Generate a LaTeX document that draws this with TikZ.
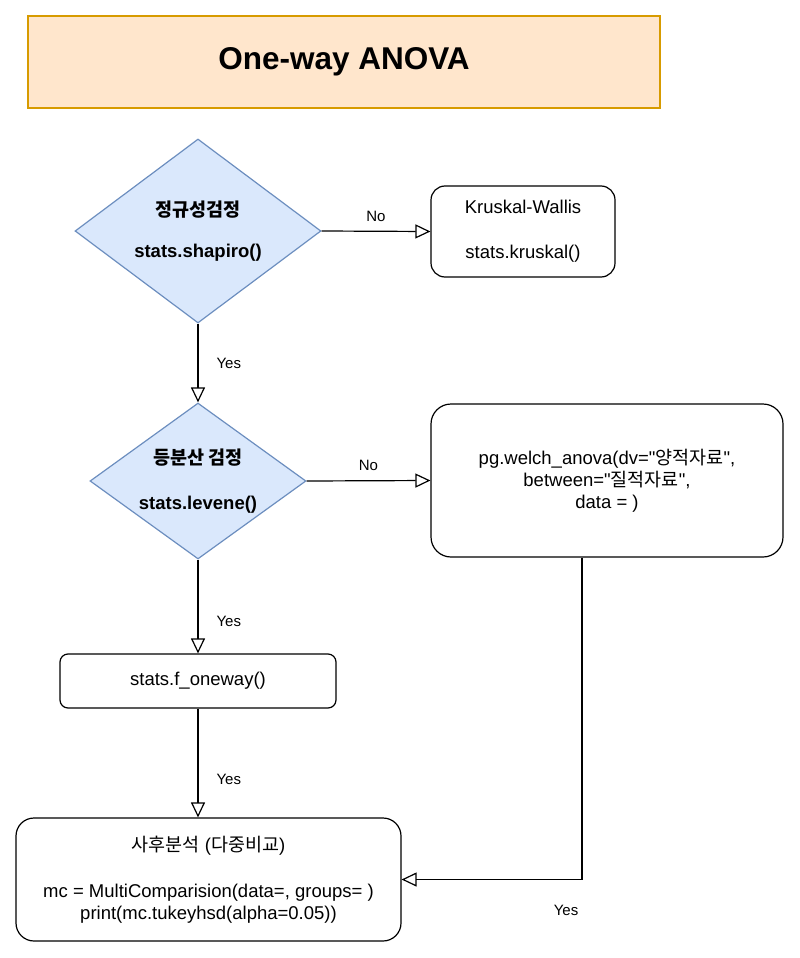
\documentclass[tikz,border=0pt]{standalone}
\usepackage{fontspec}
\setmainfont{Liberation Sans}[Ligatures=TeXOff]
\newfontfamily\kr{Noto Sans CJK KR}
\usetikzlibrary{shapes.geometric,arrows.meta}
\definecolor{titlefill}{HTML}{FFE6CC}
\definecolor{titleline}{HTML}{D79B00}
\definecolor{decfill}{HTML}{DAE8FC}
\definecolor{decline}{HTML}{6C8EBF}
\begin{document}
\begin{tikzpicture}[x=1pt,y=-1pt,
	decision/.style={diamond, draw=decline, fill=decfill, line width=1.2pt, inner sep=0pt,
		align=center, font=\bfseries\fontsize{18.5}{22}\selectfont},
	process/.style={rectangle, draw=black, line width=1.2pt, rounded corners=#1, inner sep=0pt,
		align=center, font=\fontsize{18.5}{22}\selectfont},
	process/.default=14pt,
	flow/.style={-{Triangle[open,length=15pt,width=14pt]}, line width=1.2pt},
	lbl/.style={font=\fontsize{15}{18}\selectfont, inner sep=0pt}]
		\useasboundingbox (0,0) rectangle (800,958);
		
		% title
		\node[rectangle, draw=titleline, fill=titlefill, line width=1.4pt,
			minimum width=632pt, minimum height=92pt,
			font=\bfseries\fontsize{31.5}{36}\selectfont] (title) at (344,62) {One-way ANOVA};
		
		% decisions
		\node[decision, aspect=1.337, minimum width=246pt, minimum height=184pt] (normal) at (198,231)
			{{\kr 정규성검정}\\[19pt]stats.shapiro()};
		\node[decision, aspect=1.385, minimum width=216pt, minimum height=156pt] (equal) at (198,481)
			{{\kr 등분산 검정}\\[23pt]stats.levene()};
		
		% processes
		\node[process, minimum width=184pt, minimum height=91pt] (kruskal) at (523,231.5)
			{Kruskal-Wallis\\[23pt]stats.kruskal()};
		\node[process=20pt, minimum width=352pt, minimum height=153pt] (welch) at (607,480.5)
			{pg.welch\_anova(dv="{\kr 양적자료}",\\between="{\kr 질적자료}",\\data = )};
		\node[process=8pt, minimum width=276pt, minimum height=54pt] (oneway) at (198,681)
			{stats.f\_oneway()};
		\node[process=18pt, minimum width=385pt, minimum height=123pt] (posthoc) at (208.5,879.5)
			{{\kr 사후분석} ({\kr 다중비교})\\[24pt]mc = MultiComparision(data=, groups= )\\print(mc.tukeyhsd(alpha=0.05))};
		
		% connectors
		\draw[flow] (normal.east) -- (kruskal.west) node[lbl, midway, above=9pt] {No};
		\draw[flow] (normal.south) -- (equal.north) node[lbl, midway, right=18pt] {Yes};
		\draw[flow] (equal.east) -- (welch.west) node[lbl, midway, above=10pt] {No};
		\draw[flow] (equal.south) -- (oneway.north) node[lbl, pos=0.66, right=18pt] {Yes};
		\draw[flow] (oneway.south) -- (oneway.south |- posthoc.north) node[lbl, pos=0.65, right=18pt] {Yes};
		\draw[flow] ([xshift=-25pt]welch.south) |- (posthoc.east)
			node[lbl, pos=0.5, xshift=-16pt, yshift=-31pt] {Yes};
\end{tikzpicture}
\end{document}
